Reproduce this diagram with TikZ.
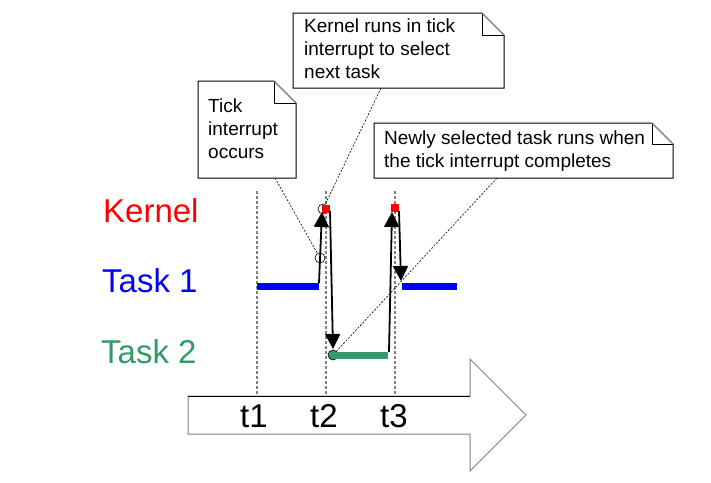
\documentclass[tikz,border=0pt]{standalone}
\usepackage{fontspec}
\setmainfont{Liberation Sans}
\usetikzlibrary{arrows.meta}

\definecolor{kernelred}{RGB}{255,0,0}
\definecolor{taskblue}{RGB}{0,0,255}
\definecolor{taskgreen}{RGB}{51,153,102}

\tikzset{
  rowlabel/.style={anchor=base west, inner sep=0pt, font=\fontsize{33}{40}\selectfont},
  ticklabel/.style={anchor=base, inner sep=0pt, font=\fontsize{33}{40}\selectfont},
  notetext/.style={anchor=north west, inner sep=0pt, align=left, font=\fontsize{19}{23}\selectfont},
  tickline/.style={draw=gray, dash pattern=on 3pt off 2pt, line width=1.2pt},
  jump/.style={-{Triangle[width=15pt,length=15pt]}, line width=1.8pt},
  pin/.style={dash pattern=on 2pt off 1.5pt, line width=0.6pt},
  ring/.style={circle, draw, line width=0.6pt, minimum size=10pt, inner sep=0pt},
  slot/.style={fill=kernelred, minimum size=8pt, inner sep=0pt},
}

\begin{document}
\begin{tikzpicture}[x=1pt, y=-1pt]
    \useasboundingbox (0,0) rectangle (711,482);

    % time axis
    \draw [gray, line width=1pt, fill=white] (188,396) -- (470,396) -- (470,359) -- (526,415)
        -- (470,471) -- (470,434) -- (188,434) -- cycle;
    \draw [line width=1pt] (188,396) -- (470,396);
    \node [ticklabel] (t1) at (254,427) {t1};
    \node [ticklabel] (t2) at (324,427) {t2};
    \node [ticklabel] (t3) at (394,427) {t3};
    \foreach \x in {257,326,395}
        \draw [tickline] (\x,191) -- (\x,396);

    % rows
    \node [rowlabel, text=kernelred] (kernel) at (103,222) {Kernel};
    \node [rowlabel, text=taskblue] (task1) at (102,292) {Task 1};
    \node [rowlabel, text=taskgreen] (task2) at (101,363) {Task 2};

    \fill [taskblue] (257,282.5) rectangle (319,289.5);
    \fill [taskblue] (402,282.5) rectangle (457,289.5);
    \node [ring, fill=taskgreen] (newpt) at (333,355) {};
    \fill [taskgreen] (334,351.5) rectangle (388,358.5);

    \node [ring] (tickpt) at (320,258) {};
    \node [ring] (selpt) at (323,209) {};
    \node [slot] (kern2) at (326,209) {};
    \node [slot] (kern3) at (395,208) {};

    % switches
    \coordinate (t1end) at (319,283);
    \coordinate (t2top) at (322,212);
    \coordinate (t2out) at (330,211);
    \coordinate (t2low) at (333,349);
    \coordinate (t2end) at (389,352);
    \coordinate (t3top) at (392,212);
    \coordinate (t3out) at (399,211);
    \coordinate (t3low) at (401,281);
    \draw [jump] (t1end) -- (t2top);
    \draw [jump] (t2out) -- (t2low);
    \draw [jump] (t2end) -- (t3top);
    \draw [jump] (t3out) -- (t3low);

    % notes
    \draw [line width=1pt, fill=white] (198,81) -- (274,81) -- (296,103) -- (296,178) -- (198,178) -- cycle;
    \draw [line width=1pt] (274,81) -- (274,103) -- (296,103);
    \draw [gray, line width=1pt] (274,81) -- (296,103);
    \node [notetext] (ticknote) at (208,99) {Tick\\interrupt\\occurs};
    \coordinate (tickfoot) at (275,178);
    \draw [pin] (tickfoot) -- (tickpt);

    \draw [line width=1pt, fill=white] (293,13) -- (482,13) -- (504,35) -- (504,88) -- (293,88) -- cycle;
    \draw [line width=1pt] (482,13) -- (482,35) -- (504,35);
    \draw [gray, line width=1pt] (482,13) -- (504,35);
    \node [notetext] (selnote) at (304,19) {Kernel runs in tick\\interrupt to select\\next task};
    \coordinate (selfoot) at (381,88);
    \draw [pin] (selfoot) -- (selpt);

    \draw [line width=1pt, fill=white] (374,123) -- (652,123) -- (673,144) -- (673,178) -- (374,178) -- cycle;
    \draw [line width=1pt] (652,123) -- (652,144) -- (673,144);
    \draw [gray, line width=1pt] (652,123) -- (673,144);
    \node [notetext] (newnote) at (384,131) {Newly selected task runs when\\the tick interrupt completes};
    \coordinate (newfoot) at (497,178);
    \draw [pin] (newfoot) -- (newpt);
\end{tikzpicture}
\end{document}
